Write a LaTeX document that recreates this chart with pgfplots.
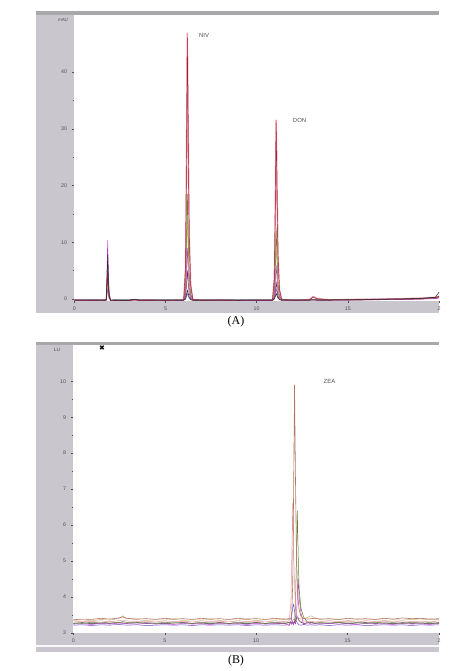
\documentclass[border=0pt]{standalone}
\usepackage{fontspec}
\setmainfont{Liberation Serif}
\newfontfamily\arial{Liberation Sans}
\newfontfamily\dejavu{DejaVu Sans}
\usepackage{pgfplots}
\usepackage{pgfplotstable}
\pgfplotsset{compat=1.18}

\definecolor{panel}{RGB}{201,199,205}
\definecolor{bar}{RGB}{168,168,170}
\definecolor{tick}{RGB}{80,80,84}
\definecolor{cpink}{RGB}{232,150,162}
\definecolor{cred}{RGB}{160,30,55}
\definecolor{cgreen}{RGB}{94,127,46}
\definecolor{cyellow}{RGB}{214,198,90}
\definecolor{cmag}{RGB}{194,63,208}
\definecolor{cmaroon}{RGB}{122,32,64}
\definecolor{cblack}{RGB}{40,40,40}
\definecolor{cpurple}{RGB}{138,122,200}
\definecolor{cbrown}{RGB}{176,120,96}
\definecolor{cblue}{RGB}{112,80,208}
\definecolor{ctan}{RGB}{200,176,128}

% panel A: retention time (min) vs mAU
\pgfplotstableread{
t      pink   red    green  yellow magenta maroon black purple
0      -0.20 -0.20 -0.15 -0.18 -0.22 -0.25 -0.20 -0.10
0.5    -0.22 -0.21 -0.16 -0.17 -0.23 -0.24 -0.21 -0.12
1      -0.20 -0.20 -0.14 -0.18 -0.22 -0.25 -0.19 -0.10
1.5    -0.21 -0.22 -0.15 -0.19 -0.21 -0.26 -0.20 -0.11
1.7    -0.20 -0.20 -0.15 -0.18 -0.22 -0.25 -0.20 -0.10
1.75   -0.20 -0.20 -0.10 -0.18 -0.10 -0.22 -0.15 -0.10
1.79    1.60  1.80  2.05  1.10  4.50  2.50  3.40  0.70
1.83    3.80  4.30  4.80  2.80 10.30  5.80  7.80  1.80
1.87    1.80  2.00  2.30  1.30  5.00  2.80  3.80  0.80
1.91    0.30  0.40  0.40  0.15  1.10  0.50  0.80  0.05
2.0    -0.25 -0.25 -0.20 -0.20 -0.30 -0.30 -0.50 -0.15
2.2    -0.20 -0.21 -0.15 -0.18 -0.22 -0.25 -0.25 -0.10
3      -0.25 -0.24 -0.16 -0.19 -0.23 -0.26 -0.22 -0.12
3.3    -0.10 -0.12 -0.05 -0.10 -0.15 -0.18 -0.05 -0.05
3.6    -0.22 -0.21 -0.15 -0.18 -0.22 -0.25 -0.22 -0.10
4      -0.20 -0.20 -0.14 -0.18 -0.21 -0.25 -0.18 -0.10
5      -0.25 -0.23 -0.16 -0.19 -0.23 -0.26 -0.21 -0.11
5.9    -0.20 -0.20 -0.15 -0.18 -0.22 -0.25 -0.20 -0.10
6.0    -0.20 -0.20 -0.15 -0.18 -0.22 -0.25 -0.20 -0.10
6.1     5.40  5.30  2.00  1.50  0.90  0.40  0.00 -0.05
6.15   23.20 22.80  9.10  6.80  4.30  2.30  0.70  0.40
6.2    46.80 46.00 18.50 14.00  9.00  5.00  1.60  1.00
6.25   28.00 27.50 11.00  8.20  5.20  2.80  0.90  0.50
6.3    11.50 11.20  4.40  3.30  2.00  1.00  0.30  0.10
6.38    2.60  2.50  0.90  0.60  0.35  0.10 -0.10 -0.15
6.5    -0.10 -0.12 -0.10 -0.12 -0.15 -0.20 -0.25 -0.12
7      -0.20 -0.20 -0.15 -0.18 -0.22 -0.25 -0.18 -0.10
8      -0.15 -0.17 -0.13 -0.16 -0.20 -0.23 -0.20 -0.08
9      -0.25 -0.23 -0.16 -0.19 -0.23 -0.26 -0.22 -0.11
10     -0.20 -0.20 -0.15 -0.18 -0.22 -0.25 -0.20 -0.10
10.87  -0.20 -0.20 -0.15 -0.18 -0.22 -0.25 -0.20 -0.10
10.97   3.60  3.55  1.30  0.95  0.50  0.20 -0.05  0.05
11.02  15.60 15.40  6.00  4.50  2.80  1.30  0.40  0.80
11.07  31.50 31.00 12.50  9.50  6.00  3.00  1.00  1.80
11.12  18.80 18.50  7.30  5.50  3.40  1.60  0.50  1.00
11.17   7.70  7.60  2.90  2.20  1.30  0.50  0.15  0.30
11.25   1.70  1.65  0.55  0.40  0.15 -0.05 -0.10 -0.10
11.37  -0.10 -0.12 -0.10 -0.12 -0.18 -0.22 -0.20 -0.10
12     -0.20 -0.20 -0.15 -0.18 -0.22 -0.25 -0.20 -0.10
12.9   -0.10 -0.15 -0.13 -0.16 -0.20 -0.22 -0.18 -0.08
13.1    0.45  0.35 -0.05 -0.10 -0.15 -0.20 -0.15 -0.05
13.3    0.10  0.05 -0.12 -0.15 -0.20 -0.22 -0.18 -0.08
14     -0.15 -0.16 -0.12 -0.15 -0.20 -0.22 -0.18 -0.08
15     -0.10 -0.12 -0.10 -0.13 -0.18 -0.20 -0.15 -0.06
16     -0.05 -0.08 -0.08 -0.10 -0.15 -0.17 -0.10 -0.04
17      0.00 -0.02 -0.04 -0.06 -0.10 -0.12 -0.05  0.00
18      0.05  0.03  0.00 -0.02 -0.06 -0.08  0.00  0.03
19      0.15  0.12  0.08  0.05  0.00 -0.02  0.10  0.08
19.8    0.30  0.28  0.20  0.15  0.10  0.08  0.30  0.18
20      0.50  0.45  0.35  0.30  0.25  0.20  1.20  0.35
}\tabA

% panel B: retention time (min) vs LU
\pgfplotstableread{
t     brown pink green magenta blue black tan
0     3.36 3.30 3.27 3.24 3.21 3.26 3.34
0.5   3.38 3.32 3.26 3.25 3.22 3.28 3.36
1     3.37 3.31 3.29 3.23 3.20 3.25 3.33
1.5   3.40 3.33 3.27 3.26 3.22 3.27 3.37
2     3.38 3.30 3.30 3.24 3.21 3.26 3.35
2.5   3.41 3.34 3.28 3.27 3.23 3.28 3.40
2.7   3.44 3.35 3.31 3.26 3.22 3.27 3.47
2.9   3.40 3.33 3.29 3.25 3.21 3.26 3.40
3.5   3.38 3.31 3.27 3.24 3.22 3.28 3.36
4     3.39 3.32 3.28 3.26 3.20 3.26 3.34
4.5   3.37 3.30 3.26 3.24 3.21 3.27 3.36
5     3.40 3.33 3.29 3.25 3.22 3.25 3.35
5.5   3.38 3.31 3.27 3.23 3.21 3.27 3.37
6     3.39 3.32 3.28 3.26 3.22 3.28 3.34
6.5   3.37 3.30 3.26 3.24 3.20 3.26 3.36
7     3.40 3.33 3.29 3.25 3.22 3.27 3.35
7.5   3.38 3.31 3.27 3.23 3.21 3.25 3.37
8     3.39 3.32 3.28 3.26 3.22 3.28 3.34
8.5   3.37 3.30 3.26 3.24 3.21 3.26 3.36
9     3.40 3.33 3.29 3.25 3.22 3.27 3.35
9.5   3.38 3.31 3.27 3.23 3.20 3.25 3.37
10    3.39 3.32 3.28 3.26 3.22 3.28 3.34
10.5  3.37 3.30 3.26 3.24 3.21 3.26 3.36
11    3.40 3.33 3.29 3.25 3.22 3.27 3.35
11.5  3.38 3.31 3.27 3.27 3.21 3.25 3.37
11.8  3.39 3.32 3.28 3.20 3.22 3.28 3.36
11.9  3.38 3.81 3.29 3.32 3.30 3.27 3.38
11.95 3.60 5.12 3.28 3.22 3.50 3.26 3.36
12.0  4.36 6.60 3.27 3.34 3.70 3.28 3.35
12.05 6.97 5.29 3.28 3.21 3.80 3.27 3.37
12.1  9.90 4.30 3.29 3.33 3.60 3.29 3.36
12.15 7.29 3.80 3.75 3.24 3.45 3.33 3.38
12.2  5.34 3.58 5.00 3.44 3.32 3.40 3.37
12.25 4.40 3.45 6.40 3.94 3.27 3.45 3.39
12.3  3.90 3.36 5.15 4.50 3.24 3.40 3.41
12.35 3.65 3.32 4.22 4.00 3.22 3.34 3.40
12.45 3.45 3.31 3.68 3.55 3.21 3.29 3.38
12.6  3.40 3.33 3.43 3.22 3.23 3.26 3.40
12.8  3.38 3.31 3.30 3.30 3.21 3.27 3.42
13    3.39 3.32 3.29 3.24 3.22 3.28 3.47
13.2  3.40 3.30 3.27 3.25 3.21 3.26 3.42
13.5  3.38 3.31 3.28 3.24 3.22 3.27 3.36
14    3.39 3.33 3.27 3.26 3.20 3.26 3.35
14.5  3.37 3.31 3.29 3.24 3.22 3.28 3.37
15    3.40 3.32 3.27 3.25 3.21 3.25 3.34
15.5  3.38 3.30 3.28 3.23 3.22 3.27 3.36
16    3.39 3.33 3.26 3.26 3.20 3.28 3.35
16.5  3.37 3.31 3.29 3.24 3.21 3.26 3.37
17    3.40 3.32 3.27 3.25 3.22 3.27 3.34
17.5  3.38 3.30 3.28 3.23 3.21 3.25 3.36
18    3.41 3.33 3.26 3.26 3.22 3.28 3.35
18.5  3.39 3.31 3.29 3.24 3.20 3.26 3.37
19    3.40 3.32 3.27 3.25 3.22 3.27 3.38
19.5  3.38 3.30 3.28 3.23 3.21 3.25 3.36
20    3.39 3.33 3.26 3.26 3.22 3.28 3.37
}\tabB

\pgfplotsset{chrom/.style={
    scale only axis, xmin=0, xmax=20,
    axis line style={draw=none},
    xtick={0,5,10,15,20}, xticklabels={0,5,10,15,2},
    tick style={color=tick, line width=0.35pt},
    major tick length=2.2bp, minor tick length=1.4bp,
    tick align=outside, xtick pos=bottom, ytick pos=left,
    ticklabel style={font=\arial\fontsize{5.3}{6}\selectfont, text=tick},
    /pgf/number format/assume math mode=true,
    yticklabel style={xshift=-1.5bp},
    xticklabel style={yshift=-0.5bp},
    every axis plot/.append style={line width=0.5bp, line join=round},
}}

\begin{document}
\begin{tikzpicture}
\useasboundingbox (0bp,0bp) rectangle (474bp,671bp);
% grey instrument frame, panel A
\fill[panel] (36bp,358bp) rectangle (74.3bp,657bp);
\fill[panel] (36bp,358bp) rectangle (439bp,370bp);
\fill[bar] (36bp,656.3bp) rectangle (439bp,659.5bp);
% grey instrument frame, panel B
\fill[panel] (36bp,19bp) rectangle (73.3bp,327bp);
\fill[panel] (36bp,26bp) rectangle (439bp,38.3bp);
\fill[white!88!panel] (36bp,24bp) rectangle (439bp,26bp);
\fill[panel] (36bp,19bp) rectangle (439bp,24bp);
\fill[bar] (36bp,325.5bp) rectangle (439bp,328.7bp);

\begin{axis}[chrom, at={(74.3bp,370bp)}, anchor=south west,
    width=364.7bp, height=287bp, ymin=-0.35, ymax=50.2,
    ytick={0,10,20,30,40}, minor y tick num=1]
\addplot[cpink, line width=1.4bp] table[x=t,y=pink]{\tabA};
\addplot[cyellow] table[x=t,y=yellow]{\tabA};
\addplot[cpurple] table[x=t,y=purple]{\tabA};
\addplot[cmaroon] table[x=t,y=maroon]{\tabA};
\addplot[cgreen] table[x=t,y=green]{\tabA};
\addplot[cmag] table[x=t,y=magenta]{\tabA};
\addplot[cred, line width=0.45bp] table[x=t,y=red]{\tabA};
\addplot[cblack] table[x=t,y=black]{\tabA};
\node[anchor=west, font=\arial\fontsize{6}{7}\selectfont, text=tick] at (axis cs:6.65,46.4) {NIV};
\node[anchor=west, font=\arial\fontsize{6}{7}\selectfont, text=tick] at (axis cs:11.8,31.4) {DON};
\end{axis}
\node[font=\arial\fontsize{4.5}{5}\selectfont, text=tick] at (63bp,651.5bp) {mAU};
\node[font=\fontsize{12}{14}\selectfont] at (236bp,349bp) {(A)};

\begin{axis}[chrom, at={(73.3bp,38.3bp)}, anchor=south west,
    width=365.7bp, height=288.4bp, ymin=3, ymax=11.03,
    ytick={3,4,5,6,7,8,9,10}, minor y tick num=1]
\addplot[ctan] table[x=t,y=tan]{\tabB};
\addplot[cblack] table[x=t,y=black]{\tabB};
\addplot[cblue] table[x=t,y=blue]{\tabB};
\addplot[cmag] table[x=t,y=magenta]{\tabB};
\addplot[cgreen] table[x=t,y=green]{\tabB};
\addplot[cpink] table[x=t,y=pink]{\tabB};
\addplot[cbrown, line width=0.6bp] table[x=t,y=brown]{\tabB};
\node[anchor=west, font=\arial\fontsize{6}{7}\selectfont, text=tick] at (axis cs:13.5,10.0) {ZEA};
\end{axis}
\node[font=\arial\fontsize{5}{6}\selectfont, text=tick] at (57bp,321bp) {LU};
\node[font=\dejavu\fontsize{7}{7}\selectfont] at (102bp,323bp) {✖};
\node[font=\fontsize{12}{14}\selectfont] at (236bp,10bp) {(B)};
\end{tikzpicture}
\end{document}
